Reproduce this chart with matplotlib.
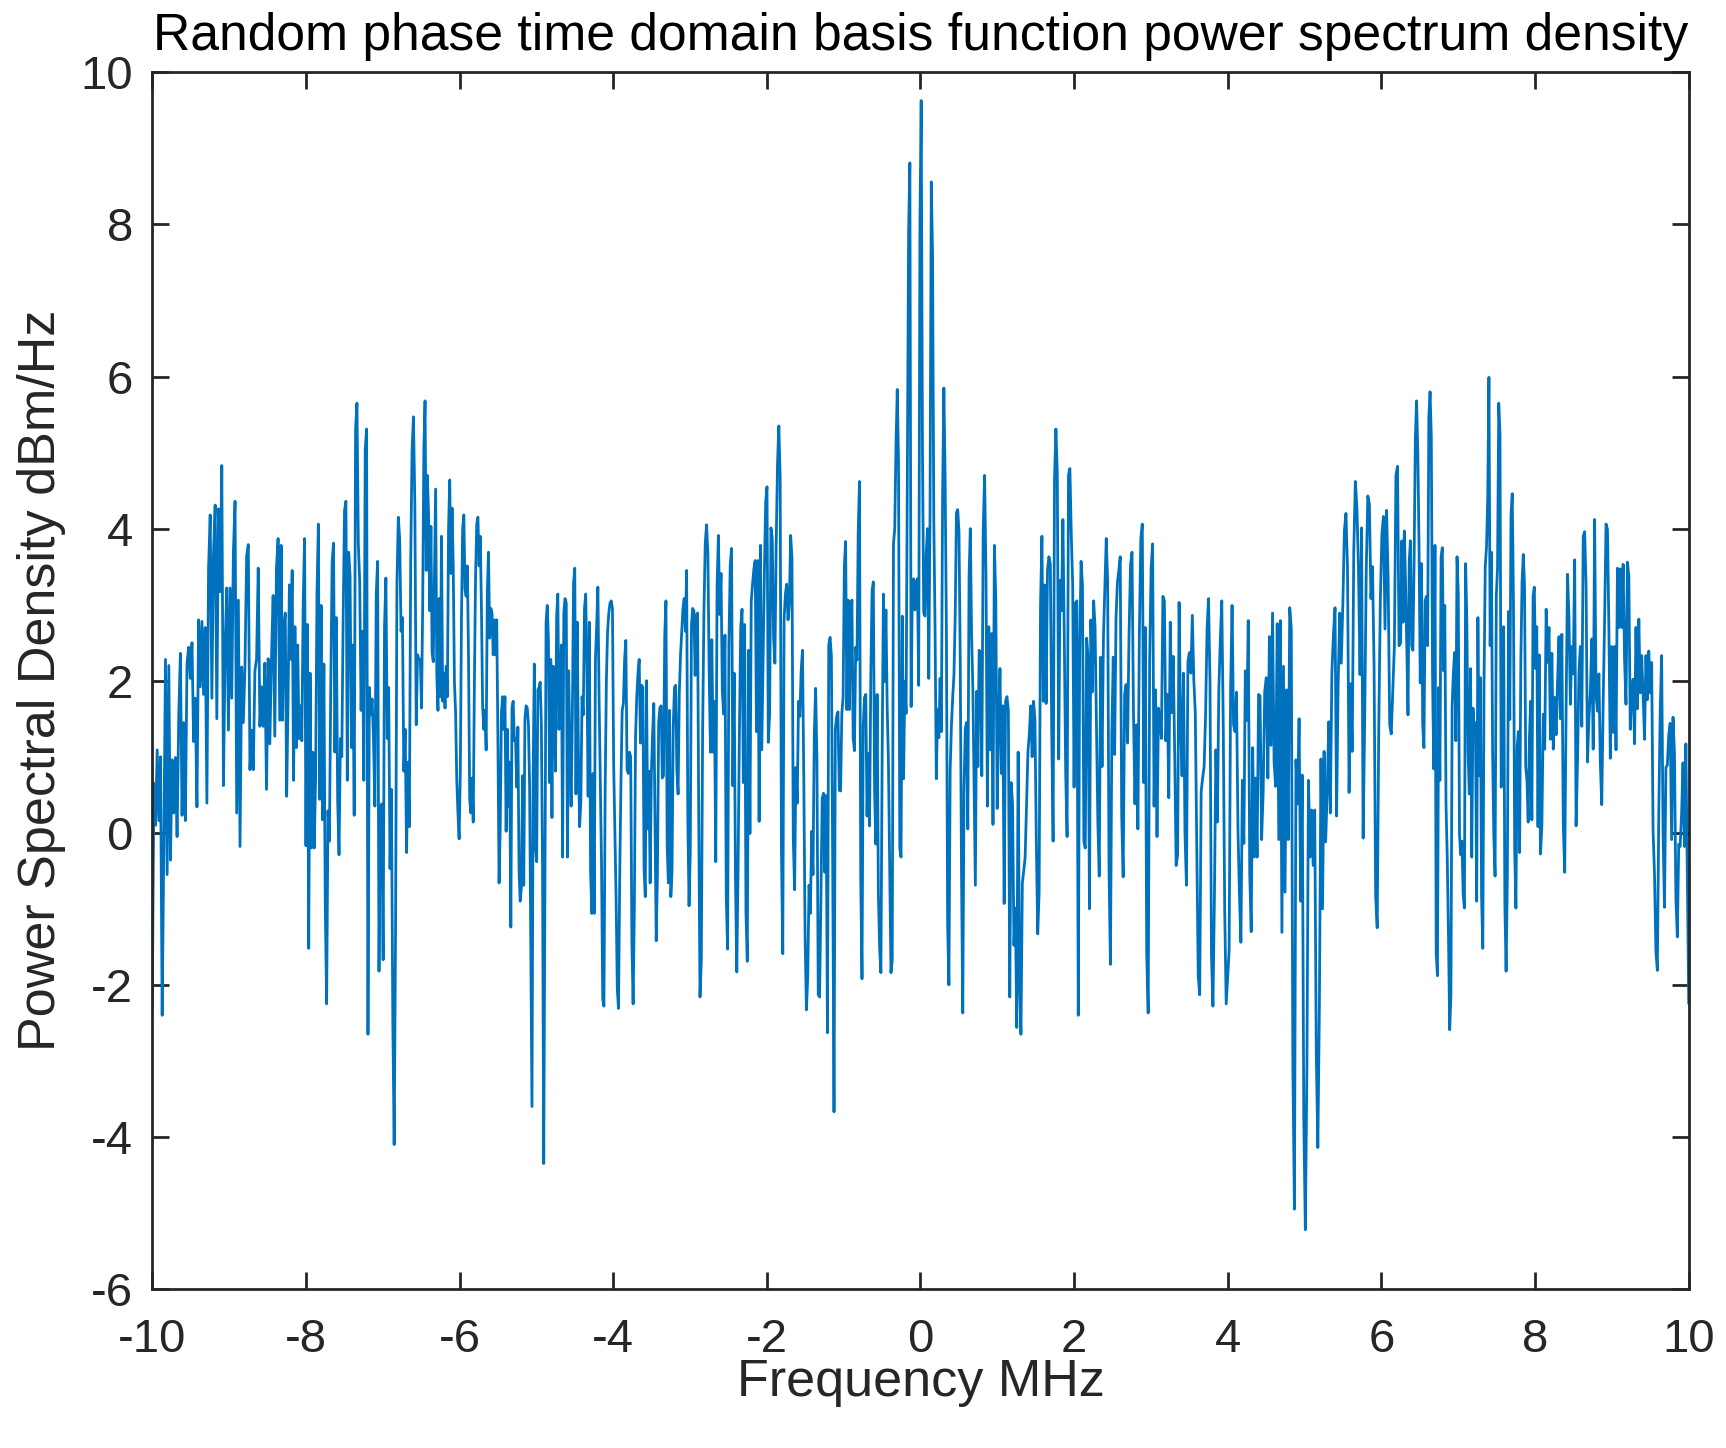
import numpy as np
import matplotlib
matplotlib.use("Agg")
import matplotlib.pyplot as plt

plt.rcParams['font.family'] = ['Liberation Sans', 'DejaVu Sans']
plt.rcParams['axes.unicode_minus'] = False

# frequency edges (MHz) of the pieces the trace was read in
SEG_EDGES = [-10, -8.34, -6.51, -4.69, -2.87, -1.04, 0.78, 2.60, 4.42, 6.25, 8.07, 10.0]

# PSD values (dBm/Hz), read left to right, one list per piece
psd_1 = [-2.3, 0.65, 0.1, 1.09, 0.16, 1.0, -2.4, -0.15, 2.28, -0.55, 2.2, -0.36, 0.96, 0.26, 0.99,
         -0.05, 1.53, 2.36, 0.23, 1.45, 0.16, 2.23, 2.44, 2.03, 2.5, 1.2, 1.77, 0.34, 2.8, 1.92, 2.78,
         1.82, 2.7, 0.39, 3.48, 4.18, 1.77, 3.69, 4.31, 1.5, 4.26, 3.17, 4.83, 0.62, 2.44, 3.22, 1.35,
         3.22, 1.77, 3.69, 4.36, 0.26, 3.06, -0.18, 2.18, 1.45, 2.2, 3.64, 3.79, 0.83, 1.35, 0.83, 2.13,
         2.29, 3.48, 1.4, 1.92, 1.4, 2.23, 0.57, 2.29, 1.17, 2.29, 3.12, 1.27, 3.48, 3.87]
psd_2 = [1.48, 3.78, 1.48, 2.71, 2.89, 0.48, 1.73, 3.26, 2.28, 3.45, 0.69, 2.71, 1.12, 2.47, 1.24,
         1.67, 1.21, 3.02, 3.87, -0.17, 2.74, -1.52, 2.1, -0.2, 1.06, -0.2, 0.72, 3.14, 4.06, 0.44,
         2.99, 0.17, 2.22, -0.93, -2.25, 0.29, -0.11, 1.91, 3.57, 3.81, 1.06, 2.83, 0.44, -0.29, 1.24,
         1.0, 2.83, 4.24, 4.36, 0.69, 3.69, 3.38, 1.12, 2.47, 0.23, 5.31, 5.65, 3.81, 3.29, 1.61, 2.65,
         0.69, 5.04, 5.31, -2.65, 1.91, 1.55, 1.76, 1.24, 0.35, 3.14, 3.57, -1.82, 0.32, 0.38, -1.67,
         2.71, 3.35, 1.24, 1.91, -0.47, 0.57, -2.43, -4.1, -1.33, 3.26, 4.15, 3.87, 2.65, 2.83, 0.81,
         1.36, -0.26, 0.93, 0.08, 3.57, 5.04, 5.47, 4.33, 1.42, 2.34, 2.28]
psd_3 = [2.28, 1.64, 3.02, 5.07, 5.68, 3.45, 4.70, 4.18, 2.92, 4.03, 2.37, 2.25, 3.38, 4.52, 2.07,
         1.61, 3.08, 1.79, 3.9, 1.73, 2.1, 1.64, 2.19, 1.79, 4.0, 4.64, 3.41, 4.27, 3.48, 1.98, 1.58,
         0.69, 0.26, -0.08, 0.78, 2.83, 4.0, 4.18, 3.2, 3.11, 3.51, 2.31, 0.44, 0.26, 0.72, 0.14, 1.98,
         3.38, 4.06, 4.15, 3.51, 3.9, 2.95, 1.67, 1.36, 1.61, 1.09, 3.17, 3.69, 2.56, 2.95, 2.89, 2.34,
         2.8, 2.34, 2.8, 1.24, -0.66, 0.08, 1.58, 1.79, 1.36, 1.79, 0.02, 1.36, 0.35, 0.93, -1.24, 1.64,
         1.73, 1.21, 1.24, 0.6, 1.39, -0.5, -0.9, -0.72, 0.75, -0.69, 1.49, 1.67, 1.64, 1.42, 0.6, -1.58,
         -3.6, 0.78, 2.22, -0.2, -0.38, 1.88, 1.91, 1.98, 1.42, -0.47, -4.35, -0.72, 2.77, 2.99, 2.53,
         0.66, 2.28, 0.2, 2.19, 2.16, 0.81, 2.86, 3.14, 1.36]
psd_4 = [1.88, 2.47, -0.32, 2.89, 3.08, 3.02, -0.32, 2.13, 1.12, 0.35, 1.49, 3.29, 3.48, 0.51, 2.77,
         1.06, 0.08, 0.41, 1.79, 1.55, 2.95, 3.14, 2.13, 0.48, 2.77, -0.5, -1.06, 0.78, -1.06, 2.28,
         2.71, 3.23, 1.79, 0.66, -0.41, -2.19, -2.28, 0.57, 2.0, 2.65, 2.89, 3.02, 3.05, 2.95, 0.9, 0.05,
         -0.87, -2.07, -2.31, -0.54, 0.66, 1.61, 1.7, 2.28, 2.53, 0.84, 0.78, 1.06, 1.0, -1.45, -2.25,
         -1.0, 1.27, 1.79, 2.1, 2.28, 1.18, 1.94, 1.91, -0.47, -0.84, 2.0, 0.05, 0.81, -0.66, 0.78, 1.3,
         1.7, 0.2, -1.42, -0.54, 1.45, 1.64, 1.67, 0.72, 0.75, 2.59, 3.05, -0.17, -0.66, 1.61, -0.84,
         -0.5, 1.39, 1.91, 1.94, 0.81, 0.51, 1.85, 2.34, 2.65, 2.95, 3.08, 2.65, 3.45, 0.17, -0.96,
         -0.26, 2.74, 2.95, 2.92, 2.07, 2.86, 2.89, 0.17]
psd_5 = [-2.16, -1.69, 1.33, 2.9, 3.81, 4.05, 3.68, 2.07, 1.06, 2.54, 1.06, 1.73, -0.38, 3.24, 3.91,
         2.87, 3.41, 1.86, 1.56, 2.6, -0.85, -1.53, 2.47, 3.51, 3.74, 0.62, 2.1, -0.59, -1.83, -0.42,
         1.33, 2.7, 2.94, 0.66, 2.74, -1.06, -1.69, 2.4, -0.01, 3.04, 3.27, 3.47, 3.58, 1.33, 3.58, 0.15,
         3.78, 1.09, 2.27, 3.41, 4.35, 4.55, 1.19, 1.56, 4.01, 3.88, 2.57, 2.23, 3.81, 4.85, 5.35, 4.68,
         -0.25, -1.59, 2.8, 3.14, 3.27, 2.8, 3.0, 3.91, 3.61, -0.08, -0.75, 0.86, 0.39, 1.73, 1.53, 2.13,
         2.4, 0.72, -1.36, -2.33, -1.9, -0.69, -1.06, 0.02, -0.55, 1.29, 1.9, 0.96, -2.13, -2.16, -0.92,
         0.45, 0.52, -0.52, 0.49, -2.63, 2.47, 2.57, 2.33, -0.42, -3.67, 1.36, 1.53, 1.59, 0.56]
psd_6 = [0.55, 1.57, 1.78, 3.51, 3.83, 1.62, 3.06, 1.62, 2.85, 3.06, 1.25, 1.08, 2.44, 2.27, 3.96,
         4.62, -0.6, -1.92, 1.41, 1.78, 1.82, 0.22, 1.04, 0.09, 2.07, 3.18, 3.3, 0.55, -0.15, 1.82,
         -0.81, -1.51, -1.84, 1.0, 3.14, 1.99, 2.93, 1.66, 0.92, -0.52, -1.84, -1.67, 3.8, 4.0, 5.11,
         5.83, 4.86, -0.2, -0.32, 2.85, 0.71, 1.99, 1.57, 4.62, 7.9, 8.81, 1.66, 3.26, 3.34, 2.93, 3.3,
         3.34, 1.94, 8.0, 9.63, 5.07, 2.89, 2.85, 3.67, 4.0, 2.03, 4.17, 8.56, 7.62, 4.13, 2.68, 0.71,
         1.62, 1.25, 2.03, 1.33, 4.45, 5.85, 4.66, 2.68, -1.22, -2.0, 0.83, 1.41, 1.78, 2.07, 2.85, 4.21,
         4.25, 3.96, 2.27, -0.52, -2.37, 0.59, 1.37, 1.45, 0.05, 3.38, 4.0, 2.6, 1.9, 0.55, -0.69, 1.86,
         0.87, 2.4]
psd_7 = [2.37, 0.75, 3.97, 4.7, 3.38, 0.35, 2.71, 1.09, 2.62, 0.11, 3.78, 3.08, 0.32, 1.49, 2.16,
         0.78, 1.67, -0.93, 1.73, 1.79, 1.61, -2.16, 0.66, 0.38, -1.48, -0.99, -2.56, 1.06, -2.0, -2.65,
         -0.66, -0.5, -0.32, 0.35, 1.06, 1.3, 1.67, 1.0, 1.73, 1.49, -0.11, -1.33, -0.78, 2.99, 3.9,
         1.73, 3.26, 1.7, 3.45, 3.63, 3.54, 1.36, -0.11, 4.64, 5.31, 4.73, 0.97, 3.32, 2.92, 4.12, 2.56,
         0.78, -0.05, 4.7, 4.79, 3.93, 3.26, 0.6, 3.02, 3.05, -2.4, 2.4, 3.57, 3.26, -0.11, -0.2, 2.56,
         2.31, -1.0, 2.8, 1.85, 3.05, 2.71, 1.45, 0.14, -0.57, 2.31, 0.87, 2.56, 3.2, 3.87, 3.32, -0.5,
         -1.73, 1.3, 2.31, 1.03, 2.83, 3.29, 3.45]
psd_8 = [3.63, 0.23, -0.58, 1.82, 1.95, 1.18, 2.62, 3.52, 3.69, 1.59, 0.38, 1.42, 0.05, 2.62, 3.87,
         4.06, 0.66, 2.7, -1.58, -2.37, 2.28, 3.48, 3.8, 0.35, 1.88, -0.05, 1.64, 1.48, 1.24, 3.11, 3.05,
         1.21, 1.82, 0.46, 2.77, 1.58, 2.32, 1.06, -0.43, -0.29, 3.03, 1.46, 0.75, 2.1, -0.01, -0.69,
         2.25, 2.37, 2.1, 2.86, 2.01, 1.58, -0.2, -1.88, -2.13, 0.54, 0.72, 0.87, 1.55, 2.68, 3.08, 1.98,
         -1.61, -2.28, -0.87, 1.09, 0.14, 1.88, 2.53, 3.05, 1.42, -1.03, -2.25, -1.91, -1.55, 1.88, 2.99,
         1.42, 1.33, 1.85, 0.05, -0.81, -1.44, 0.69, -0.14, 2.13, 1.48, 2.79, -0.54, -1.3, 1.12, -0.32,
         0.72, -0.32, 1.82]
psd_9 = [1.8, -0.09, 0.53, 1.86, 2.04, 0.72, 2.58, 1.15, 2.89, 0.92, 0.61, 2.75, -0.09, 2.79, -1.31,
         2.19, -0.78, 1.88, -0.09, 2.96, 2.69, -3.02, -4.95, 0.96, 0.38, 1.5, -0.9, 0.76, -3.76, -5.22,
         -3.1, 0.69, -0.32, 0.3, -0.43, 0.3, -2.9, -4.14, -2.25, 0.97, -1.0, 1.07, -0.12, 0.53, 1.46,
         0.26, 2.11, 2.62, 2.96, 0.22, 1.96, 2.89, 2.23, 3.0, 3.97, 4.2, 3.47, 0.53, 1.96, 1.07, 3.7,
         4.62, 4.28, 3.5, 2.08, 4.01, -0.07, 1.5, 3.47, 4.43, 4.32, 3.08, 3.5, 2.19, -0.82, -1.25, 1.38,
         3.04, 3.93, 4.16, 2.68, 4.24, 3.35, 1.42, 1.3, 1.88, 2.46, 4.7, 4.82, 2.46]
psd_10 = [2.5, 3.84, 2.77, 3.97, 3.29, 2.46, 1.55, 3.57, 3.84, 2.46, 2.4, 3.6, 5.19, 5.68, 5.01, 3.78,
          1.97, 3.54, 1.42, 1.12, 3.05, 3.11, 2.46, 5.47, 5.8, 5.22, 2.1, 0.84, 3.78, -1.58, -1.88, 1.91,
          0.69, 3.63, 3.75, 2.13, 2.99, 0.38, -0.32, -1.33, -2.59, -2.13, 1.67, 2.1, 2.37, 1.21, 3.63,
          3.14, -0.02, -0.29, -0.11, -0.81, -0.99, 3.54, 2.77, 1.06, 0.51, 2.16, -0.32, 1.64, 1.3, 1.45,
          -0.9, 2.83, 0.75, 2.04, -0.84, -1.52, 1.97, 3.51, 3.75, 4.39, 5.99, 2.46, 3.69, 1.03, -0.05,
          -0.57, 3.11, 3.48, 5.65, 5.25, 0.6, 1.24, 2.71, -0.96, -1.82, -0.6, 2.91, 1.49, 4.18, 4.46,
          3.02, -0.23, -0.99, 1.12, 1.33, -0.26, 2.25, 3.29, 3.66, 3.26, 0.87, 0.69, 0.14, 1.24, 1.73,
          0.17, 3.11, 3.23, 2.16, 2.71, 0.08, 2.34]
psd_11 = [-0.28, 0.09, 1.56, 1.1, 2.94, 2.24, 2.7, 1.23, 2.36, 1.1, 1.78, 1.29, 1.99, 2.58, 1.5, 2.61,
          0.12, -0.52, 1.66, 3.4, 2.82, 1.69, 2.45, 2.09, 3.59, 0.09, 0.92, 2.12, 2.45, 1.4, 3.9, 3.96,
          3.25, 0.93, 1.5, 1.84, 2.55, 1.1, 4.12, 1.81, 1.6, 2.09, 0.92, 0.37, 1.73, 2.79, 4.06, 3.99,
          2.7, 0.98, 2.45, 1.32, 2.45, 1.09, 3.48, 2.7, 3.47, 2.7, 3.53, 2.27, 1.69, 3.56, 3.37, 1.36,
          1.84, 2.02, 1.17, 2.7, 1.63, 2.81, 1.84, 2.33, 1.81, 1.23, 2.33, 1.75, 2.39, 1.84, 2.24, 0.03,
          -0.55, -1.56, -1.81, 0.25, 1.6, 2.33, 0.0, -0.98, 0.86, 0.89, 1.29, 1.44, -0.09, 1.52, 1.04,
          -0.86, -1.37, -0.15, -0.18, 0.25, 0.92, -0.18, 1.17, -0.58, -2.24]

PIECES = [psd_1, psd_2, psd_3, psd_4, psd_5, psd_6, psd_7, psd_8, psd_9, psd_10, psd_11]

X_TICKS = [-10, -8, -6, -4, -2, 0, 2, 4, 6, 8, 10]
Y_TICKS = [-6, -4, -2, 0, 2, 4, 6, 8, 10]

# each piece sits evenly on the frequency bins between its two edges
freq = []
for i, piece in enumerate(PIECES):
    last = i == len(PIECES) - 1
    freq.append(np.linspace(SEG_EDGES[i], SEG_EDGES[i + 1], len(piece), endpoint=last))
freq = np.concatenate(freq)
psd = np.concatenate([np.array(p) for p in PIECES])

ink = '#262626'
fig = plt.figure(figsize=(17.26, 14.48), dpi=100)
ax = fig.add_axes([0.0882, 0.1098, 0.8902, 0.8402])
ax.plot(freq, psd, color='#0072BD', linewidth=2.0)

ax.set_xlim(-10, 10)
ax.set_ylim(-6, 10)
ax.set_xticks(X_TICKS)
ax.set_yticks(Y_TICKS)
ax.tick_params(direction='in', length=12, width=2.0, colors=ink, labelsize=34,
               top=True, right=True)
ax.tick_params(axis='x', pad=21)
ax.tick_params(axis='y', pad=14)
for s in ax.spines.values():
    s.set_linewidth(2.0)
    s.set_color(ink)

ax.set_xlabel('Frequency MHz', fontsize=37.5, color=ink, labelpad=-3)
ax.set_ylabel('Power Spectral Density dBm/Hz', fontsize=37.5, color=ink, labelpad=10)
ax.set_title('Random phase time domain basis function power spectrum density',
             fontsize=37.2, color='black', pad=16)

fig.savefig('out.png', dpi=100)
